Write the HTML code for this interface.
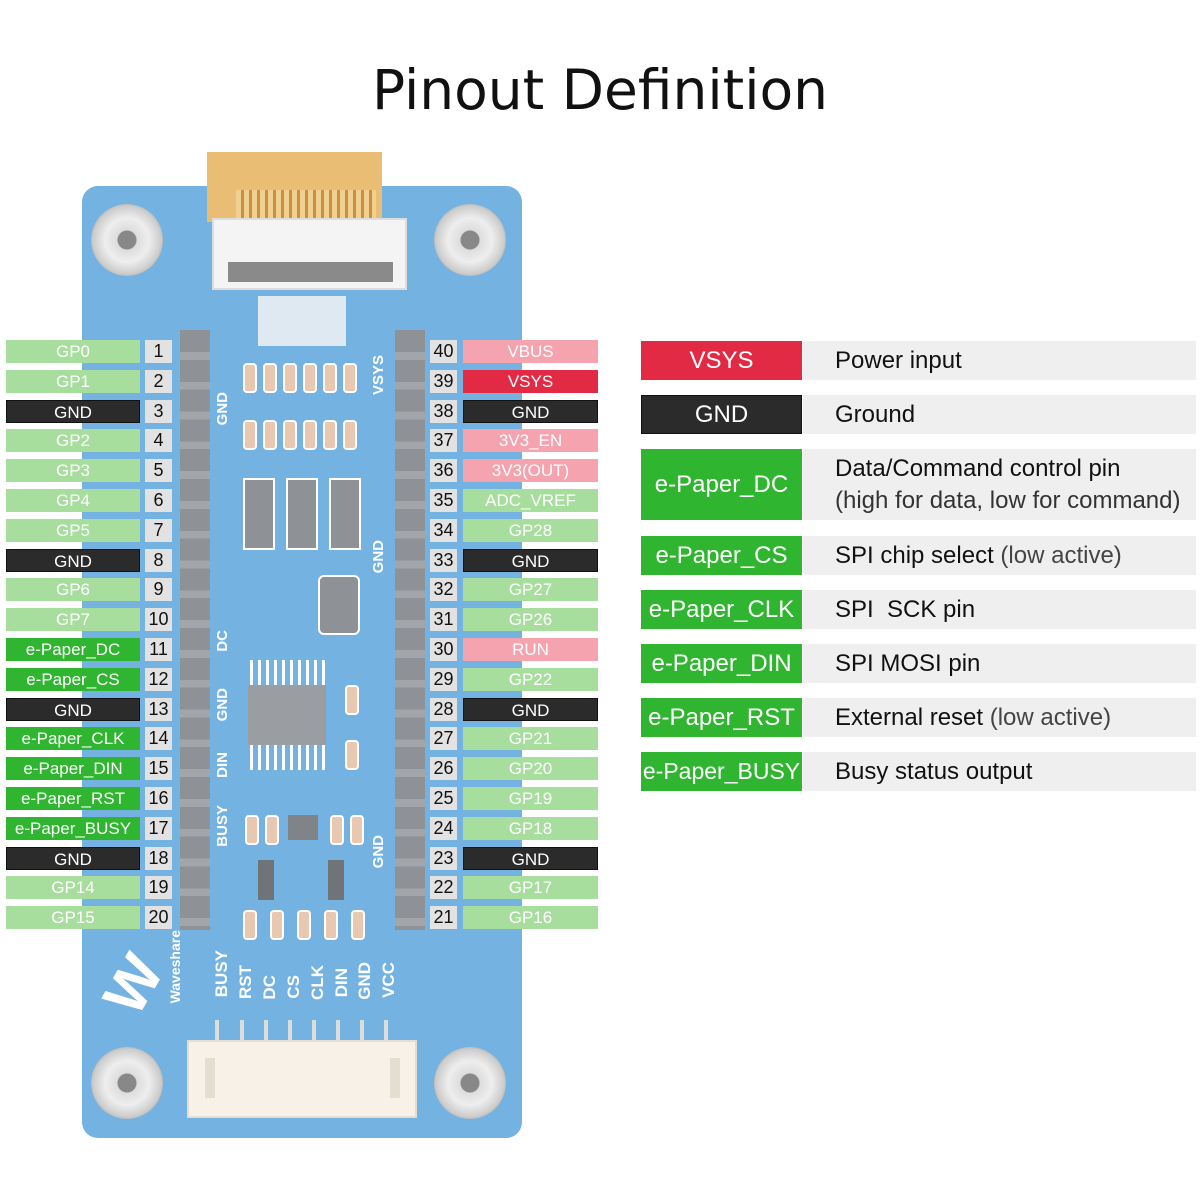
<!DOCTYPE html>
<html><head><meta charset="utf-8"><style>
*{margin:0;padding:0;box-sizing:border-box}
body{width:1200px;height:1200px;background:#fff;position:relative;overflow:hidden;font-family:"Liberation Sans",sans-serif}
.a{position:absolute}
.title{left:0;width:1200px;top:58px;text-align:center;font-size:55px;color:#111;font-family:"DejaVu Sans",sans-serif}
.lb{position:absolute;height:23px;line-height:23px;text-align:center;font-size:17px;color:#fff}
.L{background:#a7de9d}.G{background:#2fb52f}.B{background:#2b2b2b;border:1px solid #111}.P{background:#f4a3af}.R{background:#e32a45}
.nb{position:absolute;height:23px;width:27px;line-height:23px;text-align:center;font-size:18px;background:#e2e2e2;color:#111}
.lg{position:absolute;left:641px;width:161px;color:#fff;font-size:24px;text-align:center;display:flex;align-items:center;justify-content:center}
.ld{position:absolute;left:803px;width:393px;background:#efefef;color:#111;font-size:24px;padding-left:32px;display:flex;flex-direction:column;justify-content:center;line-height:32px;white-space:nowrap}
.hole{position:absolute;width:72px;height:72px;border-radius:50%;background:radial-gradient(circle,#888 0 9px,#ddd 10px,#eee 22px,#ccc 34px,#bbb 36px)}
.hdr{position:absolute;width:30px;top:330px;height:600px;background:repeating-linear-gradient(#8e9296 0 22px,#a2a6aa 22px 29.8px)}
.rs{position:absolute;width:14px;height:30px;border:2px solid #fff;border-radius:4px;background:#e8c8b0}
.sil{position:absolute;color:#fff;font-size:15px;font-weight:bold;writing-mode:vertical-rl;transform:rotate(180deg)}
</style></head><body>
<div class="a title">Pinout Definition</div>

<div class="a" style="left:82px;top:186px;width:440px;height:952px;background:#74b2e1;border-radius:16px"></div>
<div class="a" style="left:207px;top:152px;width:175px;height:70px;background:#e9bd74"></div>
<div class="a" style="left:236px;top:190px;width:140px;height:35px;background:repeating-linear-gradient(90deg,#f0d090 0 5px,#c89040 5px 8px)"></div>
<div class="a" style="left:212px;top:218px;width:195px;height:72px;background:#f4f4f4;border:2px solid #ddd"></div>
<div class="a" style="left:228px;top:262px;width:165px;height:20px;background:#8a8a8a"></div>
<div class="a" style="left:258px;top:296px;width:88px;height:50px;background:#dfe9f2"></div>
<div class="hole" style="left:91px;top:204px"></div>
<div class="hole" style="left:434px;top:204px"></div>
<div class="hole" style="left:91px;top:1047px"></div>
<div class="hole" style="left:434px;top:1047px"></div>
<div class="hdr" style="left:180px"></div>
<div class="hdr" style="left:395px"></div>
<div class="rs" style="left:243px;top:363px"></div><div class="rs" style="left:263px;top:363px"></div><div class="rs" style="left:283px;top:363px"></div><div class="rs" style="left:303px;top:363px"></div><div class="rs" style="left:323px;top:363px"></div><div class="rs" style="left:343px;top:363px"></div>
<div class="rs" style="left:243px;top:420px"></div><div class="rs" style="left:263px;top:420px"></div><div class="rs" style="left:283px;top:420px"></div><div class="rs" style="left:303px;top:420px"></div><div class="rs" style="left:323px;top:420px"></div><div class="rs" style="left:343px;top:420px"></div>
<div class="a" style="left:243px;top:478px;width:32px;height:72px;background:#8e9296;border:2px solid #fff"></div>
<div class="a" style="left:286px;top:478px;width:32px;height:72px;background:#8e9296;border:2px solid #fff"></div>
<div class="a" style="left:329px;top:478px;width:32px;height:72px;background:#8e9296;border:2px solid #fff"></div>
<div class="a" style="left:318px;top:575px;width:42px;height:60px;background:#8e9296;border:2px solid #fff;border-radius:6px"></div>
<div class="a" style="left:250px;top:660px;width:75px;height:110px;background:repeating-linear-gradient(90deg,#fff 0 3px,#74b2e1 3px 8px)"></div>
<div class="a" style="left:248px;top:685px;width:78px;height:60px;background:#9a9ea2"></div>
<div class="rs" style="left:345px;top:685px"></div><div class="rs" style="left:345px;top:740px"></div>
<div class="a" style="left:288px;top:815px;width:30px;height:25px;background:#808488"></div>
<div class="rs" style="left:245px;top:815px"></div><div class="rs" style="left:265px;top:815px"></div><div class="rs" style="left:330px;top:815px"></div><div class="rs" style="left:350px;top:815px"></div>
<div class="a" style="left:258px;top:860px;width:16px;height:40px;background:#707478"></div>
<div class="a" style="left:328px;top:860px;width:16px;height:40px;background:#707478"></div>
<div class="rs" style="left:243px;top:910px"></div><div class="rs" style="left:270px;top:910px"></div><div class="rs" style="left:297px;top:910px"></div><div class="rs" style="left:324px;top:910px"></div><div class="rs" style="left:351px;top:910px"></div>
<div class="sil" style="left:214px;top:392px">GND</div>
<div class="sil" style="left:370px;top:355px">VSYS</div>
<div class="sil" style="left:370px;top:540px">GND</div>
<div class="sil" style="left:214px;top:630px">DC</div>
<div class="sil" style="left:214px;top:688px">GND</div>
<div class="sil" style="left:214px;top:752px">DIN</div>
<div class="sil" style="left:214px;top:805px">BUSY</div>
<div class="sil" style="left:370px;top:835px">GND</div>
<div class="sil" style="left:212px;top:950px;font-size:17px">BUSY</div>
<div class="sil" style="left:236px;top:965px;font-size:17px">RST</div>
<div class="sil" style="left:260px;top:975px;font-size:17px">DC</div>
<div class="sil" style="left:284px;top:975px;font-size:17px">CS</div>
<div class="sil" style="left:308px;top:965px;font-size:17px">CLK</div>
<div class="sil" style="left:332px;top:968px;font-size:17px">DIN</div>
<div class="sil" style="left:355px;top:962px;font-size:17px">GND</div>
<div class="sil" style="left:379px;top:962px;font-size:17px">VCC</div>
<div class="sil" style="left:167px;top:930px;font-size:14px">Waveshare</div>
<div class="a" style="left:105px;top:950px;color:#fff;font-size:60px;font-weight:bold;transform:rotate(-60deg)">W</div>
<div class="a" style="left:215px;top:1020px;width:4px;height:40px;background:#ddd"></div>
<div class="a" style="left:240px;top:1020px;width:4px;height:40px;background:#ddd"></div>
<div class="a" style="left:264px;top:1020px;width:4px;height:40px;background:#ddd"></div>
<div class="a" style="left:288px;top:1020px;width:4px;height:40px;background:#ddd"></div>
<div class="a" style="left:312px;top:1020px;width:4px;height:40px;background:#ddd"></div>
<div class="a" style="left:336px;top:1020px;width:4px;height:40px;background:#ddd"></div>
<div class="a" style="left:360px;top:1020px;width:4px;height:40px;background:#ddd"></div>
<div class="a" style="left:384px;top:1020px;width:4px;height:40px;background:#ddd"></div>
<div class="a" style="left:187px;top:1040px;width:230px;height:78px;background:#f7f1e8;border:2px solid #e5ddd0"></div>
<div class="a" style="left:205px;top:1058px;width:10px;height:40px;background:#e5ddd0"></div>
<div class="a" style="left:390px;top:1058px;width:10px;height:40px;background:#e5ddd0"></div>

<div class="lb L" style="left:6px;width:134px;top:340px">GP0</div><div class="nb" style="left:145px;top:340px">1</div>
<div class="lb L" style="left:6px;width:134px;top:370px">GP1</div><div class="nb" style="left:145px;top:370px">2</div>
<div class="lb B" style="left:6px;width:134px;top:400px">GND</div><div class="nb" style="left:145px;top:400px">3</div>
<div class="lb L" style="left:6px;width:134px;top:429px">GP2</div><div class="nb" style="left:145px;top:429px">4</div>
<div class="lb L" style="left:6px;width:134px;top:459px">GP3</div><div class="nb" style="left:145px;top:459px">5</div>
<div class="lb L" style="left:6px;width:134px;top:489px">GP4</div><div class="nb" style="left:145px;top:489px">6</div>
<div class="lb L" style="left:6px;width:134px;top:519px">GP5</div><div class="nb" style="left:145px;top:519px">7</div>
<div class="lb B" style="left:6px;width:134px;top:549px">GND</div><div class="nb" style="left:145px;top:549px">8</div>
<div class="lb L" style="left:6px;width:134px;top:578px">GP6</div><div class="nb" style="left:145px;top:578px">9</div>
<div class="lb L" style="left:6px;width:134px;top:608px">GP7</div><div class="nb" style="left:145px;top:608px">10</div>
<div class="lb G" style="left:6px;width:134px;top:638px">e-Paper_DC</div><div class="nb" style="left:145px;top:638px">11</div>
<div class="lb G" style="left:6px;width:134px;top:668px">e-Paper_CS</div><div class="nb" style="left:145px;top:668px">12</div>
<div class="lb B" style="left:6px;width:134px;top:698px">GND</div><div class="nb" style="left:145px;top:698px">13</div>
<div class="lb G" style="left:6px;width:134px;top:727px">e-Paper_CLK</div><div class="nb" style="left:145px;top:727px">14</div>
<div class="lb G" style="left:6px;width:134px;top:757px">e-Paper_DIN</div><div class="nb" style="left:145px;top:757px">15</div>
<div class="lb G" style="left:6px;width:134px;top:787px">e-Paper_RST</div><div class="nb" style="left:145px;top:787px">16</div>
<div class="lb G" style="left:6px;width:134px;top:817px">e-Paper_BUSY</div><div class="nb" style="left:145px;top:817px">17</div>
<div class="lb B" style="left:6px;width:134px;top:847px">GND</div><div class="nb" style="left:145px;top:847px">18</div>
<div class="lb L" style="left:6px;width:134px;top:876px">GP14</div><div class="nb" style="left:145px;top:876px">19</div>
<div class="lb L" style="left:6px;width:134px;top:906px">GP15</div><div class="nb" style="left:145px;top:906px">20</div>

<div class="nb" style="left:430px;top:340px">40</div><div class="lb P" style="left:463px;width:135px;top:340px">VBUS</div>
<div class="nb" style="left:430px;top:370px">39</div><div class="lb R" style="left:463px;width:135px;top:370px">VSYS</div>
<div class="nb" style="left:430px;top:400px">38</div><div class="lb B" style="left:463px;width:135px;top:400px">GND</div>
<div class="nb" style="left:430px;top:429px">37</div><div class="lb P" style="left:463px;width:135px;top:429px">3V3_EN</div>
<div class="nb" style="left:430px;top:459px">36</div><div class="lb P" style="left:463px;width:135px;top:459px">3V3(OUT)</div>
<div class="nb" style="left:430px;top:489px">35</div><div class="lb L" style="left:463px;width:135px;top:489px">ADC_VREF</div>
<div class="nb" style="left:430px;top:519px">34</div><div class="lb L" style="left:463px;width:135px;top:519px">GP28</div>
<div class="nb" style="left:430px;top:549px">33</div><div class="lb B" style="left:463px;width:135px;top:549px">GND</div>
<div class="nb" style="left:430px;top:578px">32</div><div class="lb L" style="left:463px;width:135px;top:578px">GP27</div>
<div class="nb" style="left:430px;top:608px">31</div><div class="lb L" style="left:463px;width:135px;top:608px">GP26</div>
<div class="nb" style="left:430px;top:638px">30</div><div class="lb P" style="left:463px;width:135px;top:638px">RUN</div>
<div class="nb" style="left:430px;top:668px">29</div><div class="lb L" style="left:463px;width:135px;top:668px">GP22</div>
<div class="nb" style="left:430px;top:698px">28</div><div class="lb B" style="left:463px;width:135px;top:698px">GND</div>
<div class="nb" style="left:430px;top:727px">27</div><div class="lb L" style="left:463px;width:135px;top:727px">GP21</div>
<div class="nb" style="left:430px;top:757px">26</div><div class="lb L" style="left:463px;width:135px;top:757px">GP20</div>
<div class="nb" style="left:430px;top:787px">25</div><div class="lb L" style="left:463px;width:135px;top:787px">GP19</div>
<div class="nb" style="left:430px;top:817px">24</div><div class="lb L" style="left:463px;width:135px;top:817px">GP18</div>
<div class="nb" style="left:430px;top:847px">23</div><div class="lb B" style="left:463px;width:135px;top:847px">GND</div>
<div class="nb" style="left:430px;top:876px">22</div><div class="lb L" style="left:463px;width:135px;top:876px">GP17</div>
<div class="nb" style="left:430px;top:906px">21</div><div class="lb L" style="left:463px;width:135px;top:906px">GP16</div>

<div class="lg R" style="top:341px;height:39px">VSYS</div><div class="ld" style="top:341px;height:39px">Power input</div>
<div class="lg B" style="top:395px;height:39px">GND</div><div class="ld" style="top:395px;height:39px">Ground</div>
<div class="lg G" style="top:449px;height:71px">e-Paper_DC</div><div class="ld" style="top:449px;height:71px"><div>Data/Command control pin</div><div style="color:#333">(high for data, low for command)</div></div>
<div class="lg G" style="top:536px;height:39px">e-Paper_CS</div><div class="ld" style="top:536px;height:39px"><div>SPI chip select <span style="color:#444">(low active)</span></div></div>
<div class="lg G" style="top:590px;height:39px">e-Paper_CLK</div><div class="ld" style="top:590px;height:39px">SPI&nbsp; SCK pin</div>
<div class="lg G" style="top:644px;height:39px">e-Paper_DIN</div><div class="ld" style="top:644px;height:39px">SPI MOSI pin</div>
<div class="lg G" style="top:698px;height:39px">e-Paper_RST</div><div class="ld" style="top:698px;height:39px"><div>External reset <span style="color:#444">(low active)</span></div></div>
<div class="lg G" style="top:752px;height:39px;font-size:23px">e-Paper_BUSY</div><div class="ld" style="top:752px;height:39px">Busy status output</div>
</body></html>
